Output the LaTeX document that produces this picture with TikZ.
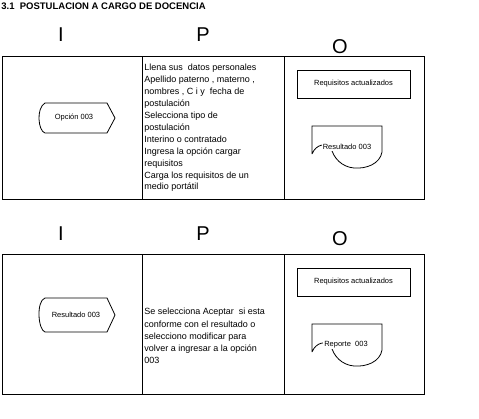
\documentclass[tikz,border=0pt]{standalone}
\usepackage{fontspec}
\setmainfont{Liberation Sans}
\begin{document}
\begin{tikzpicture}[
    x=1pt, y=-1pt,
    line width=0.8pt,
    head/.style={font=\fontsize{20}{20}\selectfont, inner sep=0pt},
    proc/.style={anchor=north west, align=left, inner sep=0pt, font=\fontsize{9}{11.9}\selectfont},
    small/.style={font=\fontsize{7.5}{8}\selectfont, inner sep=1pt},
    outbox/.style={draw, rectangle, minimum width=113pt, minimum height=28pt, font=\fontsize{7.5}{8}\selectfont}
]
\fill[white] (0,0) rectangle (479,418);
\useasboundingbox (0,0) rectangle (479,418);

% Title
\node[anchor=west, inner sep=0pt, font=\bfseries\fontsize{9.5}{10}\selectfont] (title) at (1,6) {3.1\ \ POSTULACION A CARGO DE DOCENCIA};

% First table
\node[head] (inA) at (61,35) {I};
\node[head] (procA) at (203,35) {P};
\node[head] (outA) at (340,47) {O};
\draw (2,56) rectangle (424,199);
\draw (142,56) -- (142,199);
\draw (284,56) -- (284,199);

% Input
\draw (45,103) -- (107,103) -- (115,118) -- (107,133) -- (45,133)
      .. controls (38,131) and (36,108) .. (45,103);
\node[small] (opcion) at (74,118) {Opción 003};

% Process
\node[proc] (pasosA) at (144,64) {Llena sus\ \ datos personales\\
Apellido paterno , materno ,\\
nombres , C i y\ \ fecha de\\
postulación\\
Selecciona tipo de\\
postulación\\
Interino o contratado\\
Ingresa la opción cargar\\
requisitos\\
Carga los requisitos de un\\
medio portátil};

% Output
\node[outbox] (reqA) at (353.5,84) {Requisitos actualizados};
\draw (312,154) -- (312,126) -- (382,126) -- (382,152)
      .. controls (380,164) and (366,169) .. (354,168)
      .. controls (342,167) and (333,158) .. (331,147)
      .. controls (326,143) and (316,144) .. (312,154);
\node[small, fill=white] (resA) at (347,147) {Resultado 003};

% Second table
\node[head] (inB) at (61,234) {I};
\node[head] (procB) at (203,234) {P};
\node[head] (outB) at (340,239) {O};
\draw (2,254) rectangle (424,394);
\draw (142,254) -- (142,394);
\draw (284,254) -- (284,394);

% Input
\draw (45,298) -- (107,298) -- (115,315) -- (107,332) -- (45,332)
      .. controls (38,330) and (36,301) .. (45,298);
\node[small] (resB) at (76,315) {Resultado 003};

% Process
\node[proc, font=\fontsize{9}{12.2}\selectfont] (pasosB) at (144,308) {Se selecciona Aceptar\ \ si esta\\
conforme con el resultado o\\
selecciono modificar para\\
volver a ingresar a la opción\\
003};

% Output
\node[outbox] (reqB) at (353.5,282) {Requisitos actualizados};
\draw (312,352) -- (312,324) -- (382,324) -- (382,350)
      .. controls (380,362) and (366,367) .. (354,366)
      .. controls (342,365) and (333,356) .. (331,345)
      .. controls (326,341) and (316,342) .. (312,352);
\node[small, fill=white] (repB) at (346,345) {Reporte\ \ 003};

\end{tikzpicture}
\end{document}
